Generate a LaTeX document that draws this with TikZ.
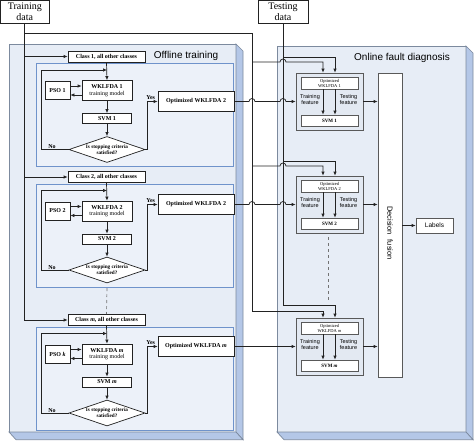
\documentclass[tikz,border=0pt]{standalone}
\usepackage{fontspec}
\setmainfont{Liberation Serif}
\setsansfont{Liberation Sans}
\usetikzlibrary{arrows.meta,shapes.geometric}
\definecolor{face}{HTML}{E7EDF6}
\definecolor{strip}{HTML}{B4C7E7}
\definecolor{edge}{HTML}{7C8A9E}
\definecolor{subfill}{HTML}{ECF1F9}
\definecolor{subedge}{HTML}{6F93CB}
\definecolor{gfill}{HTML}{E3E9F2}
\definecolor{ink}{HTML}{222222}
\begin{document}
\begin{tikzpicture}[x=1pt,y=-1pt,line width=0.7pt,
  arr/.style={draw=ink,-{Latex[length=4pt,width=3.5pt]}},
  obox/.style={draw=ink,fill=white,inner sep=0pt,align=center,font=\fontsize{6}{7}\selectfont\bfseries},
  gbox/.style={draw=black!65,fill=gfill,inner sep=0pt},
  ibox/.style={draw=black!65,fill=white,inner sep=0pt,align=center,font=\fontsize{4.5}{5}\selectfont},
  wbox/.style={draw=black!65,fill=white,inner sep=0pt,align=center},
  flab/.style={inner sep=0pt,align=center,font=\sffamily\fontsize{5.5}{6}\selectfont},
  lab/.style={inner sep=0.5pt,font=\fontsize{6}{7}\selectfont\bfseries},
  dbox/.style={draw=ink,fill=white,diamond,aspect=2.9,inner sep=0pt,minimum width=76pt,minimum height=26pt,align=center,font=\fontsize{5.2}{6}\selectfont\bfseries},
  ttl/.style={inner sep=0pt,font=\sffamily\fontsize{10}{12}\selectfont}]
\useasboundingbox (0,0) rectangle (474,440);
% panels
\filldraw[fill=face,draw=edge] (9,44) rectangle (236,432);
\filldraw[fill=strip,draw=edge] (236,44) -- (243,51) -- (243,439.7) -- (236,432) -- cycle;
\filldraw[fill=strip,draw=edge] (9,432) -- (236,432) -- (243,439.7) -- (16,439.7) -- cycle;
\filldraw[fill=face,draw=edge] (277,46) rectangle (466,432);
\filldraw[fill=strip,draw=edge] (466,46) -- (473,53) -- (473,439.7) -- (466,432) -- cycle;
\filldraw[fill=strip,draw=edge] (277,432) -- (466,432) -- (473,439.7) -- (284,439.7) -- cycle;
\node[ttl] (offt) at (186,56) {Offline training};
\node[ttl] (onlt) at (402,58) {Online fault diagnosis};
% data boxes
\node[wbox,draw=ink,minimum width=49pt,minimum height=23pt,font=\fontsize{10}{11}\selectfont] (td) at (24.8,11.5) {Training\\data};
\node[wbox,draw=ink,minimum width=50pt,minimum height=23pt,font=\fontsize{10}{11}\selectfont] (ts) at (283,11.5) {Testing\\data};
% offline classes
\foreach \k/\cy/\oy/\num/\pso/\olab in {1/56.5/101.5/1/1/2,2/177/204.5/2/2/2,m/320/346.5/\textit{m}/\textit{k}/\textit{m}}{
  \filldraw[fill=subfill,draw=subedge,line width=0.5pt] (36,{\cy+7}) rectangle (233,{\cy+110});
  \node[obox,minimum width=77pt,minimum height=11pt] (c\k) at (106.5,\cy) {Class \num, all other classes};
  \node[obox,minimum width=50pt,minimum height=20pt] (w\k) at (107,{\cy+34}) {WKLFDA \num\\[-0.5pt]{\mdseries training model}};
  \node[obox,minimum width=25pt,minimum height=18pt] (p\k) at (57.5,{\cy+34}) {PSO \pso};
  \node[obox,minimum width=49pt,minimum height=10pt] (s\k) at (107,{\cy+62}) {SVM \num};
  \node[dbox] (d\k) at (107,{\cy+93}) {Is stopping criteria\\satisfied?};
  \node[obox,minimum width=76pt,minimum height=20pt] (o\k) at (196,\oy) {Optimized WKLFDA \olab};
  \draw[arr] (c\k.south) -- (w\k.north);
  \draw[arr] (w\k.south) -- (s\k.north);
  \draw[arr] (s\k.south) -- (d\k.north);
  \draw[arr] ([yshift=4.5pt]p\k.east) -- ([yshift=4.5pt]w\k.west);
  \draw[arr] ([yshift=-4.5pt]w\k.west) -- ([yshift=-4.5pt]p\k.east);
  \draw[arr] (d\k.west) -- (41,{\cy+93}) -- (41,{\cy+13.5}) -- (w\k.north |- 0,{\cy+13.5});
  \draw[arr] (d\k.east) -- (147,{\cy+93}) |- (o\k.west);
  \node[lab,anchor=south west] (yes\k) at (145.5,{\oy-1}) {Yes};
  \node[lab,anchor=south] (no\k) at (52,{\cy+93}) {No};
}
\draw[dashed,black!55] (107,288) -- (cm.north);
% training data feed
\coordinate (tr) at (252,33);
\draw[arr] (td.south) |- (cm.west);
\draw[arr] (td.south |- c1.west) -- (c1.west);
\draw[arr] (td.south |- c2.west) -- (c2.west);
% online groups
\foreach \k/\gy/\nm in {1/101.5/1,2/204.5/2,m/346.5/\textit{m}}{
  \node[gbox,minimum width=67pt,minimum height=57pt] (g\k) at (329.5,\gy) {};
  \node[ibox,minimum width=57pt,minimum height=12pt] (oi\k) at (329.5,{\gy-18.5}) {Optimized\\WKLFDA \nm};
  \node[ibox,minimum width=57pt,minimum height=11pt,font=\fontsize{5}{6}\selectfont\bfseries] (si\k) at (329.5,{\gy+19}) {SVM \nm};
  \draw[arr] ([xshift=-6.5pt]oi\k.south) -- ([xshift=-6.5pt]si\k.north);
  \draw[arr] ([xshift=5.5pt]oi\k.south) -- ([xshift=5.5pt]si\k.north);
  \node[flab] (trf\k) at (310,{\gy-1.5}) {Training\\feature};
  \node[flab] (tef\k) at (348.5,{\gy-1.5}) {Testing\\feature};
}
\node[wbox,minimum width=24pt,minimum height=304pt] (df) at (390,225) {};
\node[rotate=-90,inner sep=0pt,font=\sffamily\fontsize{7.5}{9}\selectfont] (dft) at (390,233) {Decision\hspace{5pt}fusion};
\node[wbox,minimum width=37pt,minimum height=15pt,font=\sffamily\fontsize{6.5}{8}\selectfont] (lb) at (434.5,225.5) {Labels};
\draw[arr] (df.east |- lb.west) -- (lb.west);
\foreach \k in {1,2,m}{\draw[arr] (g\k.east) -- (g\k.east -| df.west);}
\draw[dashed,black!55] (328,237) -- (328,302);
% training branch to online
\draw[arr] (td.south |- tr) -- (tr) -- (252,311) -| ([xshift=-6.5pt]gm.north);
\draw[arr] (252,62) -- (280,62) arc[start angle=180,end angle=0,radius=3pt] -| ([xshift=-6.5pt]g1.north);
\draw[arr] (252,166) -- (280,166) arc[start angle=180,end angle=0,radius=3pt] -| ([xshift=-6.5pt]g2.north);
% testing branch
\draw[draw=ink] (ts.south) -- (283,305);
\draw[arr] (283,57) -| ([xshift=5.5pt]g1.north);
\draw[arr] (283,161) -| ([xshift=5.5pt]g2.north);
\draw[arr] (283,305) -| ([xshift=5.5pt]gm.north);
% optimized to online
\draw[arr] (o1.east) -- (249,101.5) arc[start angle=180,end angle=0,radius=3pt] -- (280,101.5) arc[start angle=180,end angle=0,radius=3pt] -- (g1.west);
\draw[arr] (o2.east) -- (249,204.5) arc[start angle=180,end angle=0,radius=3pt] -- (280,204.5) arc[start angle=180,end angle=0,radius=3pt] -- (g2.west);
\draw[arr] (om.east) -- (gm.west);
\end{tikzpicture}
\end{document}
